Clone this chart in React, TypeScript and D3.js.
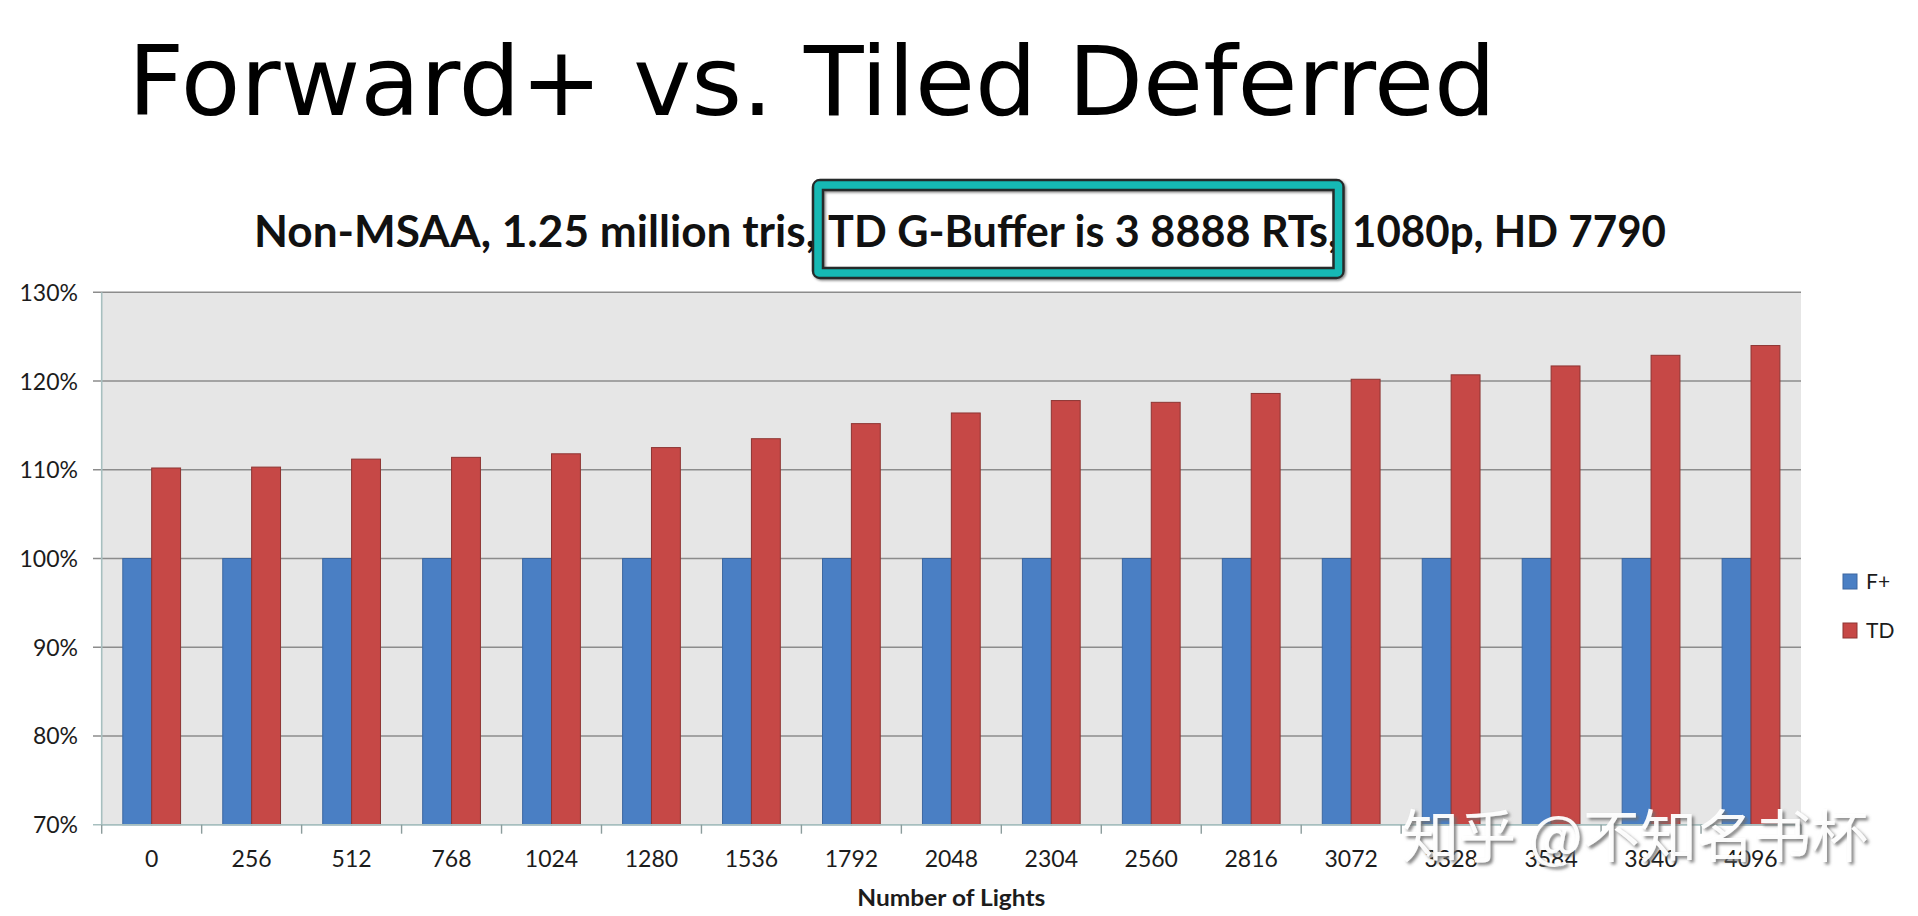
import React from "react";
import * as d3 from "d3";

// Number of lights per test case
const lightCounts: string[] = [
  "0", "256", "512", "768", "1024", "1280", "1536", "1792", "2048",
  "2304", "2560", "2816", "3072", "3328", "3584", "3840", "4096",
];

// Frame time relative to Forward+ (F+ is the 100% baseline)
const forwardPlus: number[] = [
  1.0, 1.0, 1.0, 1.0, 1.0, 1.0, 1.0, 1.0, 1.0,
  1.0, 1.0, 1.0, 1.0, 1.0, 1.0, 1.0, 1.0,
];
const tiledDeferred: number[] = [
  1.102, 1.103, 1.112, 1.114, 1.118, 1.125, 1.135, 1.152, 1.164,
  1.178, 1.176, 1.186, 1.202, 1.207, 1.217, 1.229, 1.240,
];

const seriesNames: string[] = ["F+", "TD"];
const yTicks: number[] = [0.7, 0.8, 0.9, 1.0, 1.1, 1.2, 1.3];

const W = 1918;
const H = 916;
const plot = { left: 101.7, right: 1801, top: 292.3, bottom: 824.7 };

const colors: Record<string, { fill: string; stroke: string }> = {
  "F+": { fill: "#4a7fc4", stroke: "#3d67a0" },
  TD: { fill: "#c64846", stroke: "#8e3533" },
};

const calibriLike = "Lato, 'Open Sans', 'Noto Sans', sans-serif";

export default function App() {
  const x = d3
    .scaleBand<string>()
    .domain(lightCounts)
    .range([plot.left, plot.right])
    .paddingInner(0)
    .paddingOuter(0);

  const xSub = d3
    .scaleBand<string>()
    .domain(seriesNames)
    .range([0, x.bandwidth()])
    .paddingInner(0)
    .paddingOuter(0.73);

  const y = d3.scaleLinear().domain([0.7, 1.3]).range([plot.bottom, plot.top]);

  const pctFmt = d3.format(".0%");

  const rows = lightCounts.map((c, i) => ({
    cat: c,
    values: [
      { key: "F+", v: forwardPlus[i] },
      { key: "TD", v: tiledDeferred[i] },
    ],
  }));

  const tickXs = lightCounts.map((c) => x(c) as number).concat([plot.right]);

  return (
    <svg
      width={W}
      height={H}
      viewBox={`0 0 ${W} ${H}`}
      style={{ position: "absolute", left: 0, top: 0, background: "#ffffff" }}
    >
      <defs>
        <filter id="boxShadow" x="-5%" y="-20%" width="110%" height="140%">
          <feDropShadow dx="1.5" dy="1.5" stdDeviation="1.2" floodColor="#000" floodOpacity="0.45" />
        </filter>
        <filter id="markShadow" x="-5%" y="-20%" width="110%" height="150%">
          <feDropShadow dx="2.5" dy="2.5" stdDeviation="1.5" floodColor="#6e6e6e" floodOpacity="0.9" />
        </filter>
      </defs>

      {/* Slide title */}
      <text
        x={128}
        y={114.5}
        fontFamily="'DejaVu Sans', Verdana, sans-serif"
        fontSize={97}
        fill="#000"
        textLength={1368}
        lengthAdjust="spacingAndGlyphs"
      >
        Forward+ vs. Tiled Deferred
      </text>

      {/* Chart subtitle */}
      <g fontFamily={calibriLike} fontWeight={700} fontSize={43} fill="#111">
        <text x={254} y={246.5} textLength={562} lengthAdjust="spacingAndGlyphs">
          Non-MSAA, 1.25 million tris,
        </text>
        <text x={828} y={246.5} textLength={510} lengthAdjust="spacingAndGlyphs">
          TD G-Buffer is 3 8888 RTs,
        </text>
        <text x={1352} y={246.5} textLength={314} lengthAdjust="spacingAndGlyphs">
          1080p, HD 7790
        </text>
      </g>

      {/* Highlight frame around the G-Buffer note */}
      <g filter="url(#boxShadow)">
        <rect x={818} y={185} width={520.5} height={88} rx={2} fill="none" stroke="#262a2a" strokeWidth={12.5} />
        <rect x={818} y={185} width={520.5} height={88} rx={1} fill="none" stroke="#12b9b4" strokeWidth={7.5} />
      </g>

      {/* Plot background */}
      <rect
        x={plot.left}
        y={plot.top}
        width={plot.right - plot.left}
        height={plot.bottom - plot.top}
        fill="#e6e6e6"
      />

      {/* Horizontal gridlines and y ticks */}
      {yTicks.map((t) => (
        <line
          key={`g${t}`}
          x1={93}
          x2={plot.right}
          y1={y(t)}
          y2={y(t)}
          stroke={t === 0.7 ? "#a7bfbf" : "#8c8c8c"}
          strokeWidth={1.6}
        />
      ))}

      {/* Bars */}
      {rows.map((r) => (
        <g key={r.cat} transform={`translate(${x(r.cat)},0)`}>
          {r.values.map((d) => (
            <rect
              key={d.key}
              x={xSub(d.key)}
              y={y(d.v)}
              width={xSub.bandwidth()}
              height={y(0.7) - y(d.v)}
              fill={colors[d.key].fill}
              stroke={colors[d.key].stroke}
              strokeWidth={1}
            />
          ))}
        </g>
      ))}

      {/* Axes lines */}
      <line x1={plot.left} x2={plot.left} y1={plot.top} y2={plot.bottom} stroke="#a7bfbf" strokeWidth={1.6} />
      <line x1={plot.left} x2={plot.right} y1={plot.bottom} y2={plot.bottom} stroke="#a7bfbf" strokeWidth={1.6} />
      {tickXs.map((tx, i) => (
        <line key={`xt${i}`} x1={tx} x2={tx} y1={plot.bottom} y2={plot.bottom + 9} stroke="#8c9c9c" strokeWidth={1.4} />
      ))}

      {/* Y tick labels */}
      <g fontFamily={calibriLike} fontSize={23} fill="#1c1c1c" textAnchor="end">
        {yTicks.map((t) => (
          <text key={`yl${t}`} x={78} y={y(t) + 8.5}>
            {pctFmt(t)}
          </text>
        ))}
      </g>

      {/* X tick labels */}
      <g fontFamily={calibriLike} fontSize={23} fill="#1c1c1c" textAnchor="middle">
        {lightCounts.map((c) => (
          <text key={`xl${c}`} x={(x(c) as number) + x.bandwidth() / 2} y={866.5}>
            {c}
          </text>
        ))}
      </g>

      {/* X axis title */}
      <text
        x={(plot.left + plot.right) / 2}
        y={906}
        fontFamily={calibriLike}
        fontWeight={700}
        fontSize={22}
        fill="#1c1c1c"
        textAnchor="middle"
        textLength={188}
        lengthAdjust="spacingAndGlyphs"
      >
        Number of Lights
      </text>

      {/* Legend */}
      <g fontFamily={calibriLike} fontSize={21} fill="#1c1c1c">
        {seriesNames.map((s, i) => (
          <g key={s} transform={`translate(1843,${574 + i * 49})`}>
            <rect x={0} y={0} width={14} height={15} fill={colors[s].fill} stroke={colors[s].stroke} strokeWidth={1} />
            <text x={23} y={15}>
              {s}
            </text>
          </g>
        ))}
      </g>

      {/* Site watermark */}
      <text
        x={1402}
        y={857}
        fontFamily="'Noto Sans CJK SC', sans-serif"
        fontSize={57}
        fill="#ffffff"
        fillOpacity={0.95}
        filter="url(#markShadow)"
        textLength={466}
        lengthAdjust="spacingAndGlyphs"
      >
        知乎 @不知名书杯
      </text>
    </svg>
  );
}
